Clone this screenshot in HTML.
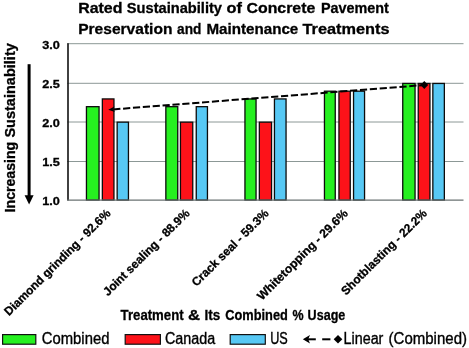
<!DOCTYPE html>
<html><head><meta charset="utf-8"><title>Rated Sustainability of Concrete Pavement Preservation and Maintenance Treatments</title>
<style>html,body{margin:0;padding:0;background:#fff}body{width:469px;height:348px;overflow:hidden}</style></head>
<body>
<svg width="469" height="348" viewBox="0 0 469 348" style="display:block" font-family="'Liberation Sans', sans-serif" fill="#000">
<rect width="469" height="348" fill="#fff"/>
<line x1="67.2" x2="463.5" y1="161.5" y2="161.5" stroke="#8c9896" stroke-width="1"/>
<line x1="67.2" x2="463.5" y1="122.0" y2="122.0" stroke="#8c9896" stroke-width="1"/>
<line x1="67.2" x2="463.5" y1="83.3" y2="83.3" stroke="#8c9896" stroke-width="1"/>
<line x1="67.2" x2="463.5" y1="43.7" y2="43.7" stroke="#8c9896" stroke-width="1"/>
<rect x="86.45" y="106.67" width="12.60" height="93.43" fill="#26f020" stroke="#0c0c0c" stroke-width="1.3"/>
<rect x="102.35" y="98.93" width="11.60" height="101.17" fill="#fd1219" stroke="#0c0c0c" stroke-width="1.3"/>
<rect x="117.15" y="122.15" width="11.30" height="77.95" fill="#57c8f4" stroke="#0c0c0c" stroke-width="1.3"/>
<rect x="165.85" y="106.67" width="11.90" height="93.43" fill="#26f020" stroke="#0c0c0c" stroke-width="1.3"/>
<rect x="180.45" y="122.15" width="12.30" height="77.95" fill="#fd1219" stroke="#0c0c0c" stroke-width="1.3"/>
<rect x="196.25" y="106.67" width="11.20" height="93.43" fill="#57c8f4" stroke="#0c0c0c" stroke-width="1.3"/>
<rect x="244.95" y="98.93" width="11.10" height="101.17" fill="#26f020" stroke="#0c0c0c" stroke-width="1.3"/>
<rect x="259.35" y="122.15" width="12.20" height="77.95" fill="#fd1219" stroke="#0c0c0c" stroke-width="1.3"/>
<rect x="274.45" y="98.93" width="11.60" height="101.17" fill="#57c8f4" stroke="#0c0c0c" stroke-width="1.3"/>
<rect x="324.45" y="91.19" width="10.80" height="108.91" fill="#26f020" stroke="#0c0c0c" stroke-width="1.3"/>
<rect x="338.95" y="91.19" width="11.30" height="108.91" fill="#fd1219" stroke="#0c0c0c" stroke-width="1.3"/>
<rect x="353.55" y="91.19" width="11.00" height="108.91" fill="#57c8f4" stroke="#0c0c0c" stroke-width="1.3"/>
<rect x="402.75" y="83.45" width="12.30" height="116.65" fill="#26f020" stroke="#0c0c0c" stroke-width="1.3"/>
<rect x="418.25" y="83.45" width="11.70" height="116.65" fill="#fd1219" stroke="#0c0c0c" stroke-width="1.3"/>
<rect x="432.85" y="83.45" width="11.50" height="116.65" fill="#57c8f4" stroke="#0c0c0c" stroke-width="1.3"/>
<line x1="68.0" x2="68.0" y1="43.2" y2="200.6" stroke="#111" stroke-width="1.6"/>
<line x1="67.2" x2="463.5" y1="200.1" y2="200.1" stroke="#6a7272" stroke-width="1.2"/>
<line x1="113.2" y1="109.41" x2="424.3" y2="85.00" stroke="#000" stroke-width="2" stroke-dasharray="7.2 2.7"/>
<polygon points="108.25,109.80 114.51,106.50 112.74,109.45 114.95,112.08" fill="#000"/>
<polygon points="420.4,85.0 424.3,81.1 428.2,85.0 424.3,88.9" fill="#000"/>
<line x1="29.1" x2="29.1" y1="64.2" y2="197" stroke="#000" stroke-width="3"/>
<polygon points="24.6,195.2 33.6,195.2 29.1,204.5" fill="#000"/>
<text x="78.2" y="12.8" font-size="15.0" font-weight="bold" textLength="44.3" lengthAdjust="spacingAndGlyphs" stroke="#000" stroke-width="0.3">Rated</text><text x="126.8" y="12.8" font-size="15.0" font-weight="bold" textLength="95.2" lengthAdjust="spacingAndGlyphs" stroke="#000" stroke-width="0.3">Sustainability</text><text x="226.5" y="12.8" font-size="15.0" font-weight="bold" textLength="15.4" lengthAdjust="spacingAndGlyphs" stroke="#000" stroke-width="0.3">of</text><text x="246.5" y="12.8" font-size="15.0" font-weight="bold" textLength="68.8" lengthAdjust="spacingAndGlyphs" stroke="#000" stroke-width="0.3">Concrete</text><text x="320.9" y="12.8" font-size="15.0" font-weight="bold" textLength="67.9" lengthAdjust="spacingAndGlyphs" stroke="#000" stroke-width="0.3">Pavement</text>
<text x="78.2" y="34.4" font-size="15.0" font-weight="bold" textLength="94.2" lengthAdjust="spacingAndGlyphs" stroke="#000" stroke-width="0.3">Preservation</text><text x="177.1" y="34.4" font-size="15.0" font-weight="bold" textLength="24.3" lengthAdjust="spacingAndGlyphs" stroke="#000" stroke-width="0.3">and</text><text x="206.5" y="34.4" font-size="15.0" font-weight="bold" textLength="91.8" lengthAdjust="spacingAndGlyphs" stroke="#000" stroke-width="0.3">Maintenance</text><text x="302.5" y="34.4" font-size="15.0" font-weight="bold" textLength="87.1" lengthAdjust="spacingAndGlyphs" stroke="#000" stroke-width="0.3">Treatments</text>
<text x="42.2" y="204.9" font-size="11.4" font-weight="bold" textLength="17.6" lengthAdjust="spacingAndGlyphs" stroke="#000" stroke-width="0.3">1.0</text>
<text x="42.2" y="166.4" font-size="11.4" font-weight="bold" textLength="17.6" lengthAdjust="spacingAndGlyphs" stroke="#000" stroke-width="0.3">1.5</text>
<text x="42.2" y="126.9" font-size="11.4" font-weight="bold" textLength="17.6" lengthAdjust="spacingAndGlyphs" stroke="#000" stroke-width="0.3">2.0</text>
<text x="42.2" y="88.2" font-size="11.4" font-weight="bold" textLength="17.6" lengthAdjust="spacingAndGlyphs" stroke="#000" stroke-width="0.3">2.5</text>
<text x="42.2" y="48.6" font-size="11.4" font-weight="bold" textLength="17.6" lengthAdjust="spacingAndGlyphs" stroke="#000" stroke-width="0.3">3.0</text>
<text transform="translate(15.3,212.4) rotate(-90)" font-size="15" font-weight="bold" textLength="70.6" lengthAdjust="spacingAndGlyphs" stroke="#000" stroke-width="0.3">Increasing</text>
<text transform="translate(15.3,137.6) rotate(-90)" font-size="15" font-weight="bold" textLength="94.4" lengthAdjust="spacingAndGlyphs" stroke="#000" stroke-width="0.3">Sustainability</text>
<text transform="translate(9.12,316.28) rotate(-45)" font-size="12" font-weight="bold" textLength="144.5" lengthAdjust="spacingAndGlyphs" stroke="#000" stroke-width="0.3">Diamond grinding - 92.6%</text>
<text transform="translate(108.02,296.48) rotate(-45)" font-size="12" font-weight="bold" textLength="116.5" lengthAdjust="spacingAndGlyphs" stroke="#000" stroke-width="0.3">Joint sealing - 88.9%</text>
<text transform="translate(196.53,287.07) rotate(-45)" font-size="12" font-weight="bold" textLength="103.2" lengthAdjust="spacingAndGlyphs" stroke="#000" stroke-width="0.3">Crack seal - 59.3%</text>
<text transform="translate(261.98,300.72) rotate(-45)" font-size="12" font-weight="bold" textLength="122.5" lengthAdjust="spacingAndGlyphs" stroke="#000" stroke-width="0.3">Whitetopping - 29.6%</text>
<text transform="translate(346.03,295.77) rotate(-45)" font-size="12" font-weight="bold" textLength="115.5" lengthAdjust="spacingAndGlyphs" stroke="#000" stroke-width="0.3">Shotblasting - 22.2%</text>
<text x="120.6" y="320" font-size="15.0" font-weight="bold" textLength="63.0" lengthAdjust="spacingAndGlyphs" stroke="#000" stroke-width="0.3">Treatment</text><text x="187.9" y="320" font-size="15.0" font-weight="bold" textLength="12.1" lengthAdjust="spacingAndGlyphs" stroke="#000" stroke-width="0.3">&amp;</text><text x="204.6" y="320" font-size="15.0" font-weight="bold" textLength="15.8" lengthAdjust="spacingAndGlyphs" stroke="#000" stroke-width="0.3">Its</text><text x="225.3" y="320" font-size="15.0" font-weight="bold" textLength="62.6" lengthAdjust="spacingAndGlyphs" stroke="#000" stroke-width="0.3">Combined</text><text x="292.6" y="320" font-size="15.0" font-weight="bold" textLength="11.1" lengthAdjust="spacingAndGlyphs" stroke="#000" stroke-width="0.3">%</text><text x="307.6" y="320" font-size="15.0" font-weight="bold" textLength="37.7" lengthAdjust="spacingAndGlyphs" stroke="#000" stroke-width="0.3">Usage</text>
<rect x="2.6" y="334.6" width="33.2" height="9.6" fill="#26f020" stroke="#111" stroke-width="1.2"/>
<text x="41.8" y="344.4" font-size="15.6" font-weight="normal" textLength="67.6" lengthAdjust="spacingAndGlyphs" stroke="#000" stroke-width="0.35">Combined</text>
<rect x="125.19999999999999" y="334.6" width="35.2" height="9.6" fill="#fd1219" stroke="#111" stroke-width="1.2"/>
<text x="165.0" y="344.4" font-size="15.6" font-weight="normal" textLength="50.2" lengthAdjust="spacingAndGlyphs" stroke="#000" stroke-width="0.35">Canada</text>
<rect x="230.2" y="334.6" width="35.1" height="9.6" fill="#57c8f4" stroke="#111" stroke-width="1.2"/>
<text x="270.2" y="344.4" font-size="15.6" font-weight="normal" textLength="17.6" lengthAdjust="spacingAndGlyphs" stroke="#000" stroke-width="0.35">US</text>
<line x1="306" x2="315.8" y1="339.3" y2="339.3" stroke="#000" stroke-width="2"/>
<polygon points="302.8,339.3 310,335 308.2,339.3 310,343.6" fill="#000"/>
<line x1="322.2" x2="330.4" y1="339.3" y2="339.3" stroke="#000" stroke-width="2"/>
<polygon points="333.7,339.3 338,335 342.3,339.3 338,343.6" fill="#000"/>
<text x="343.6" y="344.4" font-size="15.6" font-weight="normal" textLength="39.8" lengthAdjust="spacingAndGlyphs" stroke="#000" stroke-width="0.35">Linear</text><text x="388.6" y="344.4" font-size="15.6" font-weight="normal" textLength="78.4" lengthAdjust="spacingAndGlyphs" stroke="#000" stroke-width="0.35">(Combined)</text>
</svg>
</body></html>
